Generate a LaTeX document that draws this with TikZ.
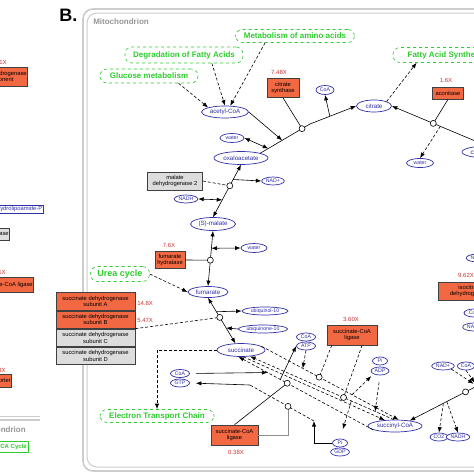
\documentclass[tikz,border=0pt]{standalone}
\usepackage{fontspec}
\setmainfont{Liberation Sans}
\usepackage{xcolor}
\usepackage{tikz}
\usetikzlibrary{arrows.meta,positioning,calc,shapes.geometric}

\definecolor{enzorange}{RGB}{241,104,66}
\definecolor{enzgrey}{RGB}{221,221,221}
\definecolor{metblue}{RGB}{48,48,168}
\definecolor{pathgreen}{RGB}{46,204,46}
\definecolor{foldred}{RGB}{204,51,51}
\definecolor{mitogrey}{RGB}{150,150,150}
\definecolor{mitoline}{RGB}{205,205,205}

\begin{document}
\begin{tikzpicture}[x=1pt, y=-1pt, line width=0.6pt, >={Latex[length=5.5pt,width=4.2pt]},
            met/.style={draw=metblue, line width=0.7pt, ellipse, fill=white, text=metblue,
                 font=\fontsize{6.2}{6.2}\selectfont, inner xsep=1pt, inner ysep=0.5pt, minimum height=12},
            smet/.style={met, minimum height=8, font=\fontsize{5.2}{5.2}\selectfont, inner ysep=0pt},
            enz/.style={draw=black!75, rectangle, fill=enzorange, font=\fontsize{5.8}{6.5}\selectfont,
                 align=center, inner sep=1pt},
            genz/.style={enz, fill=enzgrey},
            pathw/.style={draw=pathgreen, dashed, rounded corners=7pt, text=pathgreen,
                 font=\fontsize{8}{8}\selectfont\bfseries, inner sep=2pt},
            fold/.style={text=foldred, font=\fontsize{6}{6}\selectfont, inner sep=0pt},
            circ/.style={circle, draw, fill=white, inner sep=0pt, minimum size=6},
            dsh/.style={dash pattern=on 3pt off 2pt},
            mito/.style={draw=mitoline, line width=1.6pt, rounded corners=10pt}
            ]
            \useasboundingbox (0,0) rectangle (474,474);
            \fill[white] (0,0) rectangle (474,474);
            \clip (0,0) rectangle (474,474);

            % Panel A (cut off on the left)
            \node[fold, anchor=east] (fa1) at (7,62) {2.01X};
            \node[enz, anchor=east, minimum height=19] (ea1) at (28,77) {pyruvate dehydrogenase\\E1 component};
            \node[draw=metblue, fill=white, text=metblue, anchor=east, font=\fontsize{5.8}{5.8}\selectfont,
                 inner sep=1.5pt] (ma1) at (44,209) {dihydrolipoamide-P};
            \node[genz, anchor=east, minimum height=12] (ea2) at (10,234) {dihydrolipoamide dehydrogenase};
            \node[fold, anchor=east] (fa2) at (6,272) {4.31X};
            \node[enz, anchor=east, minimum height=15] (ea3) at (34,285) {succinate-CoA ligase};
            \node[fold, anchor=east] (fa3) at (6,370) {3.18X};
            \node[enz, anchor=east, minimum height=13] (ea4) at (12,381) {citrate transporter};
            \draw[mito, line width=1pt] (-20,416) -- (40,416);
            \draw[mito] (-20,420) -- (40,420);
            \node[anchor=east, text=mitogrey, font=\fontsize{8}{8}\selectfont\bfseries, inner sep=0pt] (mitoa) at (26,430) {Mitochondrion};
            \node[draw=pathgreen, text=pathgreen, font=\fontsize{6}{6}\selectfont\bfseries, anchor=east,
                 minimum height=11, inner sep=2pt] (tcaa) at (29,447) {TCA Cycle};

            % Panel B frame
            \draw[mito] (83,9) rectangle (530,471);
            \draw[mito, line width=1pt] (87,13) rectangle (526,467);
            \node[font=\fontsize{18}{18}\selectfont\bfseries, anchor=west, inner sep=0pt] (lblb) at (59,15) {B.};
            \node[anchor=west, text=mitogrey, font=\fontsize{8}{8}\selectfont\bfseries, inner sep=0pt] (mitob) at (93,22) {Mitochondrion};

            % Pathways
            \node[pathw, minimum width=118, minimum height=16] (degfa) at (184,55) {Degradation of Fatty Acids};
            \node[pathw, minimum width=98, minimum height=14] (glumet) at (149,76) {Glucose metabolism};
            \node[pathw, minimum width=119, minimum height=13] (aamet) at (295,36) {Metabolism of amino acids};
            \node[pathw, minimum width=108, minimum height=15] (fasyn) at (447,55) {Fatty Acid Synthesis};
            \node[pathw, minimum width=59, minimum height=15, font=\fontsize{9}{9}\selectfont\bfseries] (urea) at (120,274) {Urea cycle};
            \node[pathw, minimum width=114, minimum height=13] (etc) at (157,416) {Electron Transport Chain};

            % Metabolites
            \node[met, minimum width=47] (acoa) at (225,112) {acetyl-CoA};
            \node[smet, minimum width=24, minimum height=9] (h2oa) at (232,138) {water};
            \node[met, minimum width=54, minimum height=13] (oaa) at (241,158) {oxaloacetate};
            \node[smet, minimum width=18, minimum height=9] (coaa) at (325,90) {CoA};
            \node[met, minimum width=35] (cit) at (374,106) {citrate};
            \node[smet, minimum width=27, minimum height=9] (h2ob) at (420,163) {water};
            \node[met, minimum width=52] (cisaco) at (488,152) {cis-aconitate};
            \node[smet, minimum width=20] (nadp) at (273,181) {NAD+};
            \node[smet, minimum width=18] (nadh) at (186,199) {NADH};
            \node[met, minimum width=45, minimum height=13] (mal) at (213,224) {(S)-malate};
            \node[smet, minimum width=26, minimum height=9] (h2oc) at (254,248) {water};
            \node[met, minimum width=40, minimum height=11] (fum) at (208,292) {fumarate};
            \node[smet, minimum width=46] (uqh) at (265,311) {ubiquinol-10};
            \node[smet, minimum width=47] (uq) at (263,329) {ubiquinone-10};
            \node[met, minimum width=48, minimum height=13] (succ) at (241,350) {succinate};
            \node[smet, minimum width=19] (coab) at (180,373.5) {CoA};
            \node[smet, minimum width=19] (gtp) at (180,383) {GTP};
            \node[smet, minimum width=19] (coac) at (306,337) {CoA};
            \node[smet, minimum width=19] (atp) at (306,346) {ATP};
            \node[smet, minimum width=15] (pia) at (380,361) {Pi};
            \node[smet, minimum width=16] (adp) at (380,371) {ADP};
            \node[smet, minimum width=15] (pib) at (340,443) {Pi};
            \node[smet, minimum width=17] (gdp) at (340,452) {GDP};
            \node[met, minimum width=54] (sucoa) at (395,426) {succinyl-CoA};
            \node[smet, minimum width=15] (nadq) at (443,366) {NAD+};
            \node[smet, minimum width=17] (coad) at (466,366) {CoA};
            \node[smet, minimum width=16] (co2) at (439,437) {CO2};
            \node[smet, minimum width=16] (nadhb) at (458,437) {NADH};
            \node[smet, minimum width=20] (coae) at (474,313) {CoA};
            \node[smet, minimum width=20] (nadr) at (474,327) {NAD+};
            \node[smet, minimum width=22] (nadhc) at (478,258) {NADH};

            % Enzymes and fold changes
            \node[fold] (fcs) at (279,72) {7.48X};
            \node[enz, minimum width=32, minimum height=19] (cs) at (283,88) {citrate\\synthase};
            \node[fold] (faco) at (446,80) {1.6X};
            \node[enz, minimum width=31, minimum height=12] (aco) at (448,93) {aconitase};
            \node[genz, minimum width=55, minimum height=18] (mdh) at (175,181) {malate\\dehydrogenase 2};
            \node[fold] (ffh) at (169,245) {7.6X};
            \node[enz, minimum width=30, minimum height=17] (fh) at (170,260) {fumarate\\hydratase};
            \node[enz, minimum width=79, minimum height=17.5] (sdha) at (95.5,301.5) {succinate dehydrogenase\\subunit A};
            \node[enz, minimum width=79, minimum height=17.5, below=0pt of sdha] (sdhb) {succinate dehydrogenase\\subunit B};
            \node[genz, minimum width=79, minimum height=17.5, below=0pt of sdhb] (sdhc) {succinate dehydrogenase\\subunit C};
            \node[genz, minimum width=79, minimum height=17.5, below=0pt of sdhc] (sdhd) {succinate dehydrogenase\\subunit D};
            \node[fold, anchor=west] (fsdha) at (137,303) {14.8X};
            \node[fold, anchor=west] (fsdhb) at (137,320) {5.47X};
            \node[enz, minimum width=47, minimum height=20] (scsa) at (234.5,435) {succinate-CoA\\ligase};
            \node[fold] (fscsa) at (236,452) {0.38X};
            \node[fold] (fscsb) at (351,319) {3.60X};
            \node[enz, minimum width=50, minimum height=20] (scsb) at (352,335) {succinate-CoA\\ligase};
            \node[fold] (fidh) at (466,275) {9.62X};
            \node[enz, minimum width=64, minimum height=18] (idh) at (470,291) {isocitrate\\dehydrogenase};

            % Free ends of reaction lines
            \coordinate (csj) at (310,124);
            \coordinate (acoin) at (480,143);
            \coordinate (gtpj) at (250,385);
            \coordinate (pij) at (314,421);
            \coordinate (ogj) at (477,386);

            % Citrate synthase
            \draw (oaa.north east) -- coordinate[pos=0.16] (wj) coordinate[pos=0.44] (aj) coordinate[pos=0.84] (csm) (csj);
            \draw[->] (csj) -- coordinate[pos=0.43] (coaj) (cit.west);
            \draw[->] (acoa.east) -- (aj);
            \draw[<->] (h2oa.east) -- (wj);
            \draw[->] (coaj) -- (coaa.south);
            \draw (cs.south) -- (csm);
            \node[circ] (cscirc) at (csm) {};
            \draw[dsh,->] ($(glumet.south)!0.6!(glumet.south east)$) -- (acoa.north west);
            \draw[dsh,->] ($(degfa.south)!0.47!(degfa.south east)$) -- (acoa.north);
            \draw[dsh,->] ($(aamet.south west)!0.25!(aamet.south east)$) -- (acoa.50);
            \draw[dsh,->] (cit.north east) -- ($(fasyn.south west)!0.22!(fasyn.south east)$);

            % Aconitase
            \draw[->] (acoin) -- coordinate[pos=0.45] (h2obj) coordinate[pos=0.53] (acom) (cit.east);
            \draw (aco.south) -- (acom);
            \node[circ] (acocirc) at (acom) {};
            \draw[dsh,->] (h2obj) -- (h2ob.north);

            % Malate dehydrogenase
            \draw[<->] (mal.north) -- coordinate[pos=0.33] (nadhj) coordinate[pos=0.6] (mdhm) coordinate[pos=0.72] (nadpj) (oaa.south);
            \draw[dsh] (mdh.east) -- (mdhm);
            \node[circ] (mdhcirc) at (mdhm) {};
            \draw[->] (nadpj) -- (nadp.west);
            \draw[<->] (nadh.east) -- (nadhj);

            % Fumarate hydratase
            \draw[<->] (fum.north) -- coordinate[pos=0.47] (fhm) coordinate[pos=0.685] (h2ocj) (mal.south);
            \draw (fh.east) -- (fhm);
            \node[circ] (fhcirc) at (fhm) {};
            \draw[<->] (h2ocj) -- (h2oc.west);
            \draw[dsh,->] (urea.east) -- (fum.west);

            % Succinate dehydrogenase
            \draw[<->] (succ.130) -- coordinate[pos=0.337] (uqj) coordinate[pos=0.57] (sdhm) coordinate[pos=0.695] (uqhj) (fum.south);
            \draw[->] (uqhj) -- (uqh.west);
            \draw[->] (uq.west) -- (uqj);
            \draw[dsh] (sdhc.north east) -- (sdhm);
            \node[circ] (sdhcirc) at (sdhm) {};
            \draw[dsh,->] (succ.west) -| (etc.north);

            % Succinate-CoA ligase
            \draw[dsh,->] (succ.10) -- coordinate[pos=0.3] (atpj) coordinate[pos=0.42] (scsbm1) coordinate[pos=0.66] (adpj) (sucoa.60);
            \draw[dsh,->] (sucoa.100) -- coordinate[pos=0.13] (adpj2) coordinate[pos=0.296] (gdpj) coordinate[pos=0.35] (scsbm2) (succ.-35);
            \draw[dsh,->] (succ.-70) -- (sucoa.150);
            \draw[dsh,->] (sucoa.190) -- coordinate[pos=0.6385] (scsam) coordinate[pos=0.69] (atpfrom) coordinate[pos=0.785] (coaj2) (succ.-110);
            \draw[dsh] (pij) -- coordinate[pos=0.406] (scsam2) (gtpj);
            \draw (scsa.north) -- (scsam);
            \node[circ] (scsacirc) at (scsam) {};
            \draw[black!45] (scsa.east) -| (scsam2);
            \node[circ] (scsacirc2) at (scsam2) {};
            \draw[->] (pib.west) -| (pij);
            \draw[->, shorten <=6pt] (coab.east) -- (coaj2);
            \draw[<-, shorten <=6pt] (gtp.east) -- (gtpj);
            \draw[->] (atpfrom) -- (atp.west);
            \draw[dsh,->] (atp.south) -- (atpj);
            \draw[dsh,->, shorten >=3pt] (adpj) -- (adp.south west);
            \draw[dsh,->, shorten <=7pt] (adp.south) -- (adpj2);
            \draw[dsh,->, shorten >=10pt] (gdpj) -- (pib.north);
            \draw[dsh] ($(scsb.south west)!0.1!(scsb.south east)$) -- (scsbm1);
            \node[circ] (scsbcirc) at (scsbm1) {};
            \draw[dsh] ($(scsb.south west)!0.7!(scsb.south east)$) -- (scsbm2);
            \node[circ] (scsbcirc2) at (scsbm2) {};

            % 2-oxoglutarate dehydrogenase
            \draw[->] (ogj) -- coordinate[pos=0.17] (ogm) coordinate[pos=0.45] (nadhbj) coordinate[pos=0.5] (co2j) (sucoa.20);
            \node[circ] (ogcirc) at (ogm) {};
            \draw[dsh,->, shorten >=4pt] (nadq.south east) -- (ogj);
            \draw[dsh,->, shorten >=4pt] (coad.south) -- (ogj);
            \draw[dsh,->] (co2j) -- (co2.north);
            \draw[dsh,->] (nadhbj) -- (nadhb.north);
        \end{tikzpicture}
\end{document}
